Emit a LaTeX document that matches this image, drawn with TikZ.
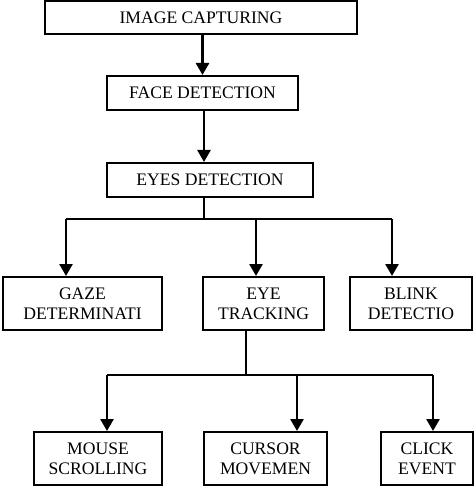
\documentclass[tikz,border=0pt]{standalone}
\usepackage{fontspec}
\setmainfont{Liberation Serif}
\usetikzlibrary{arrows.meta}
\begin{document}
\begin{tikzpicture}[x=1pt,y=-1pt,
  box/.style={draw,line width=2pt,rectangle,inner sep=0pt,align=center,
    font=\fontsize{17.6}{20}\selectfont},
  conn/.style={line width=2.6pt},
  arr/.style={conn,-{Triangle[width=13pt,length=12pt]}}]
\useasboundingbox (0,0) rectangle (474,486);
\fill[white] (0,0) rectangle (474,486);
% nodes
\node[box,minimum width=312pt,minimum height=33pt] (cap) at (201,17.5) {IMAGE CAPTURING};
\node[box,minimum width=191pt,minimum height=34pt] (face) at (202.5,93) {FACE DETECTION};
\node[box,minimum width=206pt,minimum height=34pt] (eyes) at (210,180) {EYES DETECTION};
\node[box,minimum width=159pt,minimum height=53pt] (gaze) at (82.5,303.5) {GAZE\\DETERMINATI};
\node[box,minimum width=121pt,minimum height=53pt] (track) at (263.5,303.5) {EYE\\TRACKING};
\node[box,minimum width=122pt,minimum height=53pt] (blink) at (411,303.5) {BLINK\\DETECTIO};
\node[box,minimum width=128pt,minimum height=53pt] (mouse) at (98,458.5) {MOUSE\\SCROLLING};
\node[box,minimum width=123pt,minimum height=53pt] (cursor) at (265.5,458.5) {CURSOR\\MOVEMEN};
\node[box,minimum width=92pt,minimum height=53pt] (click) at (427,458.5) {CLICK\\EVENT};
% junction coordinates
\coordinate (t1) at (202.5,34);
\coordinate (t2) at (204,110);
\coordinate (e1) at (204,197);
\coordinate (j1) at (204,219);
\coordinate (b1) at (66,219);
\coordinate (b2) at (256,219);
\coordinate (b3) at (392,219);
\coordinate (s1) at (246,330);
\coordinate (j2) at (246,375);
\coordinate (c1) at (107,375);
\coordinate (c2) at (297,375);
\coordinate (c3) at (433,375);
% connectors
\draw[arr] (t1) -- (t1 |- face.north);
\draw[arr] (t2) -- (t2 |- eyes.north);
\draw[conn] (e1) -- (j1);
\draw[conn] (b1) -- (b3);
\draw[arr] (b1) -- (b1 |- gaze.north);
\draw[arr] (b2) -- (b2 |- track.north);
\draw[arr] (b3) -- (b3 |- blink.north);
\draw[conn] (s1) -- (j2);
\draw[conn] (c1) -- (c3);
\draw[arr] (c1) -- (c1 |- mouse.north);
\draw[arr] (c2) -- (c2 |- cursor.north);
\draw[arr] (c3) -- (c3 |- click.north);
\end{tikzpicture}
\end{document}
